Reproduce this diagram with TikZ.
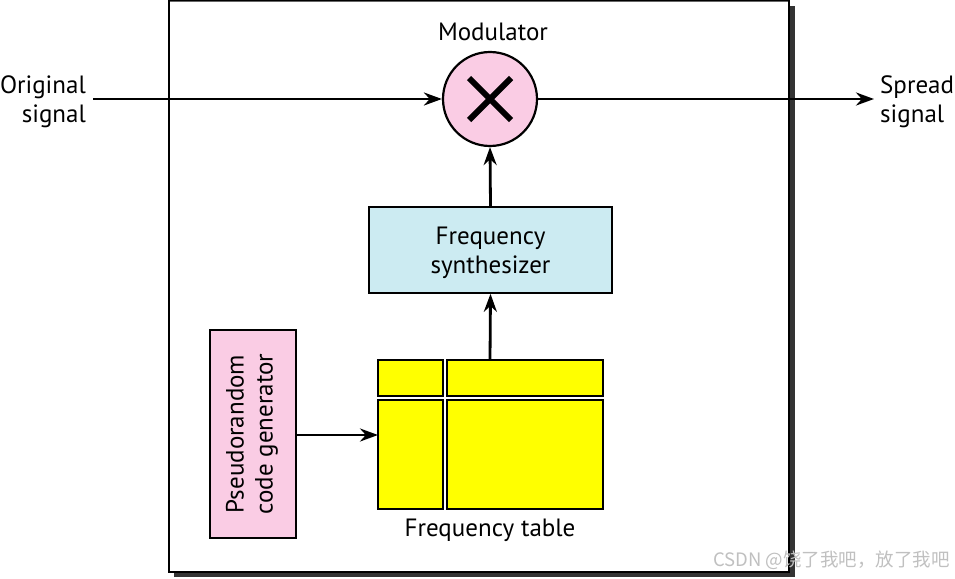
\documentclass[tikz,border=0pt]{standalone}
\usepackage{fontspec}
\setmainfont{PT Sans}
\newfontfamily\cjkfont{Noto Sans CJK SC}
\usetikzlibrary{arrows.meta}
\definecolor{pinkfill}{HTML}{FACCE4}
\definecolor{bluefill}{HTML}{CCEBF2}
\definecolor{yellowfill}{HTML}{FFFF00}
\definecolor{wmgray}{HTML}{C0C0C0}
\begin{document}
\begin{tikzpicture}[x=1pt,y=-1pt,
  lbl/.style={font=\fontsize{25}{29}\selectfont, inner sep=0pt, align=center},
  conn/.style={line width=2.8pt, -{Stealth[length=18pt,width=13pt]}},
  boxline/.style={draw=black, line width=1.6pt},
  cell/.style={boxline, fill=yellowfill, inner sep=0pt, minimum width=#1},
]
\useasboundingbox (0,0) rectangle (955,578);
% frame with shadow
\fill[black!80] (174,6) rectangle (795,577);
\fill[white] (169,1) rectangle (789,572);
\draw[line width=2pt] (169,1) rectangle (789,572);
\draw[black!60, line width=1.5pt] (170,1.5) -- (788,1.5);

% modulator
\node[circle, draw, line width=2.2pt, fill=pinkfill, minimum size=94pt, inner sep=0pt] (mod) at (490,99) {};
\draw[line width=6pt] (469,78) -- (511,120) (511,78) -- (469,120);
\node[lbl] (modlbl) at (493,32) {Modulator};

% signals
\node[lbl, align=right, anchor=east] (orig) at (86,102) {Original\\signal};
\node[lbl, align=left, anchor=west] (spread) at (880,102) {Spread\\signal};
\coordinate (inA) at (93,99);
\coordinate (outB) at (874,99);

% synthesizer
\node[boxline, fill=bluefill, minimum width=243pt, minimum height=86pt] (syn) at (490.5,250) {};
\node[lbl] (synlbl) at (490.5,253) {Frequency\\synthesizer};

% frequency table
\node[cell=65pt, minimum height=36pt] (c11) at (410.5,378) {};
\node[cell=156pt, minimum height=36pt] (c12) at (525,378) {};
\node[cell=65pt, minimum height=109pt] (c21) at (410.5,454.5) {};
\node[cell=156pt, minimum height=109pt] (c22) at (525,454.5) {};
\node[lbl] (ftlbl) at (490,530) {Frequency table};
\coordinate (tabtop) at (490,360);
\coordinate (tableft) at (378,435);

% pseudorandom generator
\node[boxline, fill=pinkfill, minimum width=86pt, minimum height=208pt] (prng) at (253,434) {};
\node[lbl, rotate=90] (prnglbl) at (252,434) {Pseudorandom\\code generator};

% connectors
\draw[conn] (inA) -- (mod.west);
\draw[line width=2.8pt] (mod.east) -- (789,99);
\draw[conn] (789,99) -- (outB);
\draw[conn] (syn.north) -- (mod.south);
\draw[conn] (tabtop) -- (syn.south);
\draw[conn] (prng.east |- tableft) -- (tableft);

% watermark
\node[font=\cjkfont\fontsize{18.5}{18.5}\selectfont, text=wmgray, anchor=east, inner sep=0pt] (wm) at (950,560) {CSDN @饶了我吧，放了我吧};
\end{tikzpicture}
\end{document}
